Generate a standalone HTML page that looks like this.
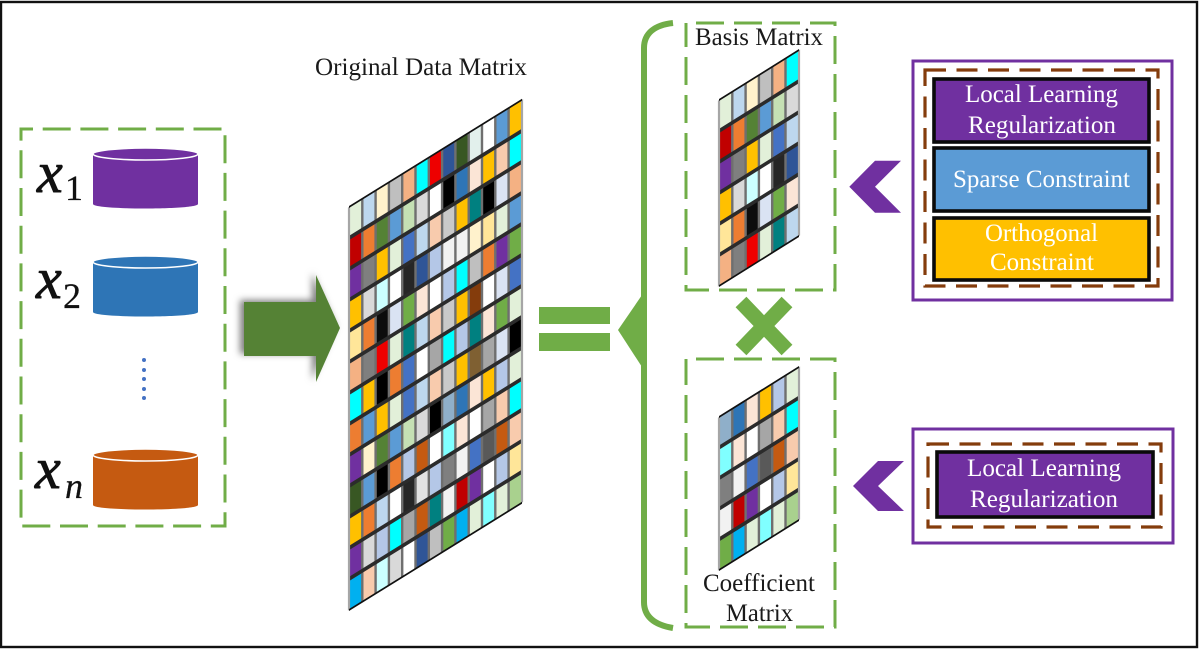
<!DOCTYPE html>
<html><head><meta charset="utf-8"><title>Matrix factorization diagram</title>
<style>
html,body{margin:0;padding:0;background:#fff;width:1200px;height:650px;overflow:hidden}
svg{display:block;filter:blur(.35px)}
text{font-family:"Liberation Serif",serif}
.m rect{width:13.4px;height:31px}
.c rect{height:30.6px}
.m rect:nth-child(2){x:13.3px}.m rect:nth-child(3){x:26.6px}.m rect:nth-child(4){x:39.9px}.m rect:nth-child(5){x:53.2px}.m rect:nth-child(6){x:66.5px}.m rect:nth-child(7){x:79.8px}.m rect:nth-child(8){x:93.1px}.m rect:nth-child(9){x:106.4px}.m rect:nth-child(10){x:119.7px}.m rect:nth-child(11){x:133px}.m rect:nth-child(12){x:146.3px}.m rect:nth-child(13){x:159.6px}
.v{fill:none;stroke:#6f6f6f;stroke-width:2.4}
.h{fill:none;stroke:#2b2b2b;stroke-width:4.2}
.o{fill:none;stroke:#111;stroke-width:2}
.e{fill:none;stroke:#a6a6a6;stroke-width:2.2}
.d{fill:none;stroke:#70ad47;stroke-width:3;stroke-dasharray:28 10;stroke-dashoffset:28}
.b{fill:none;stroke:#843c0c;stroke-width:3.2;stroke-dasharray:21 10.5}
.w{fill:#fff;font-size:25px}
.t{fill:#1a1a1a;font-size:25px}
.x{font-size:58px;font-style:italic;stroke:#111;stroke-width:.9}
.s{font-size:36px;stroke:#111;stroke-width:.3}
</style></head><body>
<svg width="1200" height="650" viewBox="0 0 1200 650" xmlns="http://www.w3.org/2000/svg">
<defs><filter id="s" x="-20%" y="-20%" width="140%" height="140%"><feDropShadow dx="-4" dy="-2" stdDeviation="3.5" flood-color="#000" flood-opacity=".5"/></filter></defs>
<rect x="1" y="2" width="1196" height="645" fill="#fff" stroke="#111" stroke-width="2.4"/>

<!-- Left data box -->
<rect class="d" x="21" y="129" width="204" height="397" style="stroke-dasharray:28 9.700;stroke-dashoffset:16"/>
<g stroke="#fff" stroke-width="1.6">
<path fill="#7030a0" stroke="none" d="M93 154C93 150 198 150 198 154V204C198 210 93 210 93 204z"/><ellipse cx="145.500" cy="154" rx="52.500" ry="6" fill="#7030a0"/>
<path fill="#2e75b6" stroke="none" d="M93 262C93 258 198 258 198 262V312C198 318 93 318 93 312z"/><ellipse cx="145.500" cy="262" rx="52.500" ry="6" fill="#2e75b6"/>
<path fill="#c55a11" stroke="none" d="M93 455C93 451 198 451 198 455V505C198 511 93 511 93 505z"/><ellipse cx="145.500" cy="455" rx="52.500" ry="6" fill="#c55a11"/>
</g>
<g fill="#111">
<text class="x" x="37" y="192">x</text><text class="s" x="65" y="200">1</text>
<text class="x" x="36" y="298">x</text><text class="s" x="63" y="308">2</text>
<text class="x" x="35" y="488">x</text><text class="s" x="65" y="498" style="font-style:italic">n</text>
</g>
<g fill="#4472c4"><circle cx="144" cy="360" r="2"/><circle cx="144" cy="370" r="2"/><circle cx="144" cy="379" r="2"/><circle cx="144" cy="389" r="2"/><circle cx="144" cy="398" r="2"/></g>

<!-- Arrow -->
<polygon points="244,302 316,302 316,275 340,328 316,382 316,356 244,356" fill="#548235" filter="url(#s)"/>

<text class="t" x="315" y="75" textLength="212" lengthAdjust="spacingAndGlyphs">Original Data Matrix</text>

<!-- Big matrix -->
<g class="m" transform="matrix(1,-0.62,0,1,349,207)">
<g><rect fill="#e2f0d9"/><rect fill="#bdd7ee"/><rect fill="#fff2cc"/><rect fill="#bfbfbf"/><rect fill="#f4b183"/><rect fill="#00ffff"/><rect fill="#ee0000"/><rect fill="#2f5597"/><rect fill="#385723"/><rect fill="#e2f0ec"/><rect fill="#ffffff"/><rect fill="#5b9bd5"/><rect fill="#ffc000"/></g>
<g transform="translate(0,31)"><rect fill="#c00000"/><rect fill="#ed7d31"/><rect fill="#548235"/><rect fill="#5b9bd5"/><rect fill="#c5e0b4"/><rect fill="#d9d9d9"/><rect fill="#ffffff"/><rect fill="#000000"/><rect fill="#2e75b6"/><rect fill="#fbe5d6"/><rect fill="#ffc000"/><rect fill="#f8cbad"/><rect fill="#00ffff"/></g>
<g transform="translate(0,62)"><rect fill="#7030a0"/><rect fill="#7f7f7f"/><rect fill="#ffc000"/><rect fill="#e2f0d9"/><rect fill="#4472c4"/><rect fill="#bdd7ee"/><rect fill="#f8cbad"/><rect fill="#c9c9c9"/><rect fill="#ffc000"/><rect fill="#008080"/><rect fill="#000000"/><rect fill="#dae3f3"/><rect fill="#f4b183"/></g>
<g transform="translate(0,93)"><rect fill="#ffc000"/><rect fill="#d9d9d9"/><rect fill="#ccffff"/><rect fill="#ffffff"/><rect fill="#262626"/><rect fill="#2f5597"/><rect fill="#b4c7e7"/><rect fill="#f2f2f2"/><rect fill="#f2f2f2"/><rect fill="#fff2cc"/><rect fill="#ffe699"/><rect fill="#e2f0d9"/><rect fill="#5b9bd5"/></g>
<g transform="translate(0,124)"><rect fill="#ffe699"/><rect fill="#ed7d31"/><rect fill="#0d0d0d"/><rect fill="#dae3f3"/><rect fill="#70ad47"/><rect fill="#fbe5d6"/><rect fill="#ffffff"/><rect fill="#b4c7e7"/><rect fill="#00ffff"/><rect fill="#bfbfbf"/><rect fill="#ed7d31"/><rect fill="#7030a0"/><rect fill="#70ad47"/></g>
<g transform="translate(0,155)"><rect fill="#f4b183"/><rect fill="#7f7f7f"/><rect fill="#ee0000"/><rect fill="#e2f0d9"/><rect fill="#008080"/><rect fill="#bdd7ee"/><rect fill="#f8cbad"/><rect fill="#c9c9c9"/><rect fill="#ffc000"/><rect fill="#843c0c"/><rect fill="#ffffff"/><rect fill="#dae3f3"/><rect fill="#4472c4"/></g>
<g transform="translate(0,186)"><rect fill="#00ffff"/><rect fill="#ffc000"/><rect fill="#000000"/><rect fill="#ed7d31"/><rect fill="#4472c4"/><rect fill="#ffffff"/><rect fill="#a6a6a6"/><rect fill="#00ffff"/><rect fill="#b4c7e7"/><rect fill="#008080"/><rect fill="#fbe5d6"/><rect fill="#70ad47"/><rect fill="#e2f0d9"/></g>
<g transform="translate(0,217)"><rect fill="#ed7d31"/><rect fill="#5b9bd5"/><rect fill="#ffc000"/><rect fill="#e2f0d9"/><rect fill="#4472c4"/><rect fill="#bdd7ee"/><rect fill="#f8cbad"/><rect fill="#c9c9c9"/><rect fill="#ffc000"/><rect fill="#7f6032"/><rect fill="#a6a6a6"/><rect fill="#dae3f3"/><rect fill="#000000"/></g>
<g transform="translate(0,248)"><rect fill="#7030a0"/><rect fill="#fff2cc"/><rect fill="#548235"/><rect fill="#5b9bd5"/><rect fill="#c5e0b4"/><rect fill="#d9d9d9"/><rect fill="#000000"/><rect fill="#8fafc9"/><rect fill="#2e75b6"/><rect fill="#fbe5d6"/><rect fill="#ffc000"/><rect fill="#b4c7e7"/><rect fill="#e2f0d9"/></g>
<g transform="translate(0,279)"><rect fill="#385723"/><rect fill="#5b9bd5"/><rect fill="#000000"/><rect fill="#ed7d31"/><rect fill="#b4c7e7"/><rect fill="#c55a11"/><rect fill="#ffffff"/><rect fill="#80ffff"/><rect fill="#fbe5d6"/><rect fill="#ffffff"/><rect fill="#a6a6a6"/><rect fill="#f8cbad"/><rect fill="#00ffff"/></g>
<g transform="translate(0,310)"><rect fill="#ffc000"/><rect fill="#ed7d31"/><rect fill="#bdd7ee"/><rect fill="#ffffff"/><rect fill="#262626"/><rect fill="#e2e2e2"/><rect fill="#b4c7e7"/><rect fill="#7f7f7f"/><rect fill="#f2f2f2"/><rect fill="#4472c4"/><rect fill="#595959"/><rect fill="#c55a11"/><rect fill="#f8cbad"/></g>
<g transform="translate(0,341)"><rect fill="#7030a0"/><rect fill="#d9d9d9"/><rect fill="#b4c7e7"/><rect fill="#00ffff"/><rect fill="#a6a6a6"/><rect fill="#c55a11"/><rect fill="#008080"/><rect fill="#f2f2f2"/><rect fill="#c00000"/><rect fill="#7030a0"/><rect fill="#ffffff"/><rect fill="#b4c7e7"/><rect fill="#ffe699"/></g>
<g transform="translate(0,372)"><rect fill="#00b0f0"/><rect fill="#f8cbad"/><rect fill="#ccffff"/><rect fill="#d9d9d9"/><rect fill="#ffffff"/><rect fill="#2f5597"/><rect fill="#bfbfbf"/><rect fill="#70ad47"/><rect fill="#00b0f0"/><rect fill="#e2f0d9"/><rect fill="#80ffff"/><rect fill="#e2f0d9"/><rect fill="#a9d18e"/></g>
<path class="v" d="M13.3 0V403M26.6 0V403M39.9 0V403M53.2 0V403M66.500 0V403M79.800 0V403M93.100 0V403M106.400 0V403M119.700 0V403M133 0V403M146.300 0V403M159.600 0V403"/>
<path class="h" d="M0 31H173M0 62H173M0 93H173M0 124H173M0 155H173M0 186H173M0 217H173M0 248H173M0 279H173M0 310H173M0 341H173M0 372H173"/>
<path class="e" d="M0 0V403M173 0V403"/>
<path class="o" d="M0 0H173M0 403H173"/>
</g>

<!-- Equals, brace -->
<rect x="539" y="307" width="71" height="17" fill="#70ad47"/><rect x="539" y="333" width="71" height="18" fill="#70ad47"/>
<path d="M673 23C655 25 644 33 644 48V602C644 617 655 625 673 628" fill="none" stroke="#70ad47" stroke-width="6"/>
<polygon points="618,330 642,295 642,367" fill="#70ad47"/>

<!-- Basis -->
<rect class="d" x="686" y="23" width="149" height="267"/>
<text class="t" x="695" y="45" textLength="128" lengthAdjust="spacingAndGlyphs">Basis Matrix</text>
<g class="m" transform="matrix(1,-0.625,0,1,719,100)">
<g><rect fill="#e2f0d9"/><rect fill="#bdd7ee"/><rect fill="#fff2cc"/><rect fill="#bfbfbf"/><rect fill="#f4b183"/><rect fill="#00ffff"/></g>
<g transform="translate(0,31)"><rect fill="#c00000"/><rect fill="#ed7d31"/><rect fill="#548235"/><rect fill="#5b9bd5"/><rect fill="#c5e0b4"/><rect fill="#d9d9d9"/></g>
<g transform="translate(0,62)"><rect fill="#7030a0"/><rect fill="#7f7f7f"/><rect fill="#ffc000"/><rect fill="#e2f0d9"/><rect fill="#4472c4"/><rect fill="#bdd7ee"/></g>
<g transform="translate(0,93)"><rect fill="#ffc000"/><rect fill="#d9d9d9"/><rect fill="#ccffff"/><rect fill="#ffffff"/><rect fill="#262626"/><rect fill="#2f5597"/></g>
<g transform="translate(0,124)"><rect fill="#ffe699"/><rect fill="#ed7d31"/><rect fill="#0d0d0d"/><rect fill="#dae3f3"/><rect fill="#70ad47"/><rect fill="#fbe5d6"/></g>
<g transform="translate(0,155)"><rect fill="#f4b183"/><rect fill="#7f7f7f"/><rect fill="#ee0000"/><rect fill="#e2f0d9"/><rect fill="#008080"/><rect fill="#bdd7ee"/></g>
<path class="v" d="M13.3 0V186M26.6 0V186M39.9 0V186M53.2 0V186M66.500 0V186"/>
<path class="h" d="M0 31H80M0 62H80M0 93H80M0 124H80M0 155H80"/>
<path class="e" d="M0 0V186M80 0V186"/>
<path class="o" d="M0 0H80M0 186H80"/>
</g>

<!-- X -->
<path d="M741 302L787 350M787 302L741 350" stroke="#70ad47" stroke-width="15" fill="none"/>

<!-- Coefficient -->
<rect class="d" x="686" y="359" width="149" height="268"/>
<g class="m c" transform="matrix(1,-0.625,0,1,719,417)">
<g><rect fill="#8fafc9"/><rect fill="#2e75b6"/><rect fill="#fbe5d6"/><rect fill="#ffc000"/><rect fill="#b4c7e7"/><rect fill="#e2f0d9"/></g>
<g transform="translate(0,30.600)"><rect fill="#80ffff"/><rect fill="#fbe5d6"/><rect fill="#ffffff"/><rect fill="#a6a6a6"/><rect fill="#f8cbad"/><rect fill="#00ffff"/></g>
<g transform="translate(0,61.200)"><rect fill="#7f7f7f"/><rect fill="#f2f2f2"/><rect fill="#4472c4"/><rect fill="#595959"/><rect fill="#c55a11"/><rect fill="#f8cbad"/></g>
<g transform="translate(0,91.800)"><rect fill="#f2f2f2"/><rect fill="#c00000"/><rect fill="#7030a0"/><rect fill="#ffffff"/><rect fill="#b4c7e7"/><rect fill="#ffe699"/></g>
<g transform="translate(0,122.400)"><rect fill="#70ad47"/><rect fill="#00b0f0"/><rect fill="#e2f0d9"/><rect fill="#80ffff"/><rect fill="#e2f0d9"/><rect fill="#a9d18e"/></g>
<path class="v" d="M13.3 0V153M26.6 0V153M39.9 0V153M53.2 0V153M66.500 0V153"/>
<path class="h" d="M0 30.600H80M0 61.200H80M0 91.800H80M0 122.400H80"/>
<path class="e" d="M0 0V153M80 0V153"/>
<path class="o" d="M0 0H80M0 153H80"/>
</g>
<text class="t" x="703" y="591" textLength="112" lengthAdjust="spacingAndGlyphs">Coefficient</text>
<text class="t" x="726" y="621" textLength="67" lengthAdjust="spacingAndGlyphs">Matrix</text>

<!-- Right top -->
<polygon points="849.300,186.700 875,160.700 901,160.700 875,186.700 901,212.700 875,212.700" fill="#7030a0"/>
<rect x="913" y="61" width="259" height="239" fill="#fff" stroke="#7030a0" stroke-width="3"/>
<rect class="b" x="925" y="70" width="233" height="216"/>
<rect x="934" y="79" width="215" height="63" fill="#7030a0" stroke="#0a0a0a" stroke-width="3.600"/>
<rect x="934" y="148" width="215" height="63" fill="#5b9bd5" stroke="#0a0a0a" stroke-width="3.600"/>
<rect x="934" y="218" width="215" height="62" fill="#ffc000" stroke="#0a0a0a" stroke-width="3.600"/>
<text class="w" x="965" y="102" textLength="153" lengthAdjust="spacingAndGlyphs">Local Learning</text>
<text class="w" x="968" y="133" textLength="148" lengthAdjust="spacingAndGlyphs">Regularization</text>
<text class="w" x="953" y="187" textLength="177" lengthAdjust="spacingAndGlyphs">Sparse Constraint</text>
<text class="w" x="985" y="241" textLength="113" lengthAdjust="spacingAndGlyphs">Orthogonal</text>
<text class="w" x="990" y="270" textLength="104" lengthAdjust="spacingAndGlyphs">Constraint</text>

<!-- Right bottom -->
<polygon points="853,486 878,461 904,461 878,486 904,511 878,511" fill="#7030a0"/>
<rect x="913" y="429" width="260" height="114" fill="#fff" stroke="#7030a0" stroke-width="3"/>
<rect class="b" x="928" y="444" width="233" height="83"/>
<rect x="937" y="452" width="216" height="65" fill="#7030a0" stroke="#0a0a0a" stroke-width="3.600"/>
<text class="w" x="967" y="476" textLength="154" lengthAdjust="spacingAndGlyphs">Local Learning</text>
<text class="w" x="970" y="507" textLength="148" lengthAdjust="spacingAndGlyphs">Regularization</text>
</svg>
</body></html>
